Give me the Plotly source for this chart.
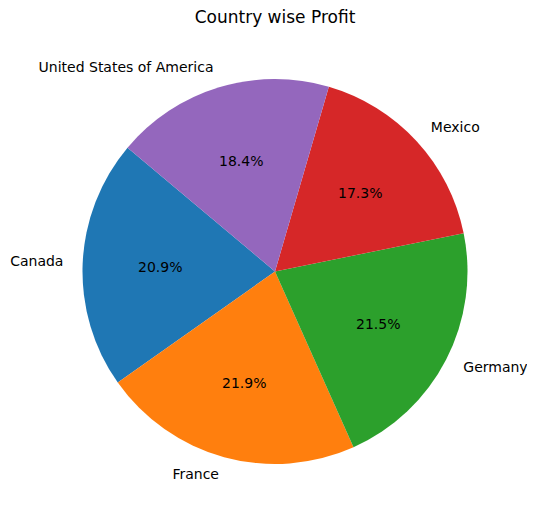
import math
import plotly.graph_objects as go

countries = ["Canada", "France", "Germany", "Mexico", "United States of America"]
profit_share = [20.9, 21.9, 21.5, 17.3, 18.4]
colors = ["#1f77b4", "#ff7f0e", "#2ca02c", "#d62728", "#9467bd"]
start_angle = 140          # matplotlib startangle, counterclockwise
pct_distance = 0.6
label_distance = 1.1

W, H = 535, 522
cx, cy, r = 267, 263.5, 192.5   # figure-pixel centre and radius of the pie
k = 1.3                          # axis half-range used for the text overlay

total = sum(profit_share)
fracs = [v / total for v in profit_share]

# mid angles of each wedge (matplotlib convention)
mid_angles = []
acc = 0.0
for f in fracs:
    mid_angles.append(math.radians(start_angle + 360 * (acc + f / 2)))
    acc += f

pct_x = [pct_distance * math.cos(a) for a in mid_angles]
pct_y = [pct_distance * math.sin(a) for a in mid_angles]
pct_text = [f"{f * 100:.1f}%" for f in fracs]
lab_x = [label_distance * math.cos(a) for a in mid_angles]
lab_y = [label_distance * math.sin(a) for a in mid_angles]
lab_pos = ["middle right" if x >= 0 else "middle left" for x in lab_x]

pie_domain = dict(x=[(cx - r) / W, (cx + r) / W], y=[(H - cy - r) / H, (H - cy + r) / H])
ax_dom_x = [(cx - k * r) / W, (cx + k * r) / W]
ax_dom_y = [(H - cy - k * r) / H, (H - cy + k * r) / H]

# plotly ccw rotation marks the end of the first slice (clockwise degrees from 12 o'clock)
rot = -(start_angle - 90) - fracs[0] * 360

fig = go.Figure()
fig.add_trace(go.Pie(
    labels=countries, values=profit_share, sort=False, direction="counterclockwise",
    rotation=rot, marker=dict(colors=colors, line=dict(width=0)),
    textinfo="none", domain=pie_domain, showlegend=False,
    hoverinfo="label+percent", automargin=False,
))
fig.add_trace(go.Scatter(
    x=lab_x, y=lab_y, text=countries, mode="text", textposition=lab_pos,
    textfont=dict(size=14, color="black", family="DejaVu Sans"),
    showlegend=False, hoverinfo="skip", cliponaxis=False,
))
for x, y, t in zip(pct_x, pct_y, pct_text):
    fig.add_annotation(x=x, y=y, xref="x", yref="y", text=t, showarrow=False,
                       xanchor="center", yanchor="middle",
                       font=dict(size=14, color="black", family="DejaVu Sans"))
fig.update_layout(
    width=W, height=H, margin=dict(l=0, r=0, t=0, b=0, autoexpand=False),
    paper_bgcolor="white", plot_bgcolor="rgba(0,0,0,0)",
    xaxis=dict(domain=ax_dom_x, range=[-k, k], visible=False, fixedrange=True),
    yaxis=dict(domain=ax_dom_y, range=[-k, k], visible=False, fixedrange=True),
    title=dict(text="Country wise Profit", x=cx / W, xanchor="center", y=1 - 9 / H, yanchor="middle",
               font=dict(size=17, color="black", family="DejaVu Sans")),
)
fig.write_html("out.html")
